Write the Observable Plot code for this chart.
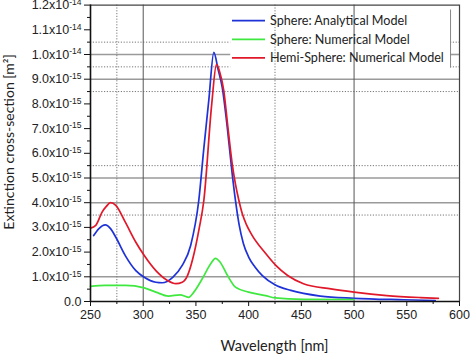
<!DOCTYPE html>
<html><head><meta charset="utf-8">
<script src="https://cdn.jsdelivr.net/npm/d3@7"></script>
<script src="https://cdn.jsdelivr.net/npm/@observablehq/plot@0.6"></script>
<style>
body{margin:0;background:#fff;}
#chart{width:474px;height:354px;overflow:hidden;}
</style></head><body><div id="chart"></div>
<script>
// Values in units of 1e-15 m^2, wavelength in nm
const blueNm = [253,258,264,269,274,283,293,301,312,318,328,337,345,352.7,357.5,362.2,367,371,374.9,379.7,384.4,387.5,391,395,400,406,413,425,440,468,500,547,577];
const blueV  = [2.67,2.95,3.1,2.95,2.6,1.86,1.25,0.98,0.78,0.76,0.98,1.46,2.27,4.09,6.2,8.14,10.09,9.4,8.68,7.06,5.17,4.09,3.1,2.35,1.8,1.4,1.05,0.68,0.45,0.22,0.13,0.07,0.04];
const greenNm = [250,264,283,301,312,324,335,343,348,356,364,368.6,373,380,387.5,400,416,425,452,500];
const greenV  = [0.61,0.65,0.65,0.55,0.38,0.22,0.27,0.17,0.38,0.92,1.53,1.75,1.59,1.05,0.58,0.38,0.24,0.15,0.09,0.08];
const redNm = [250,255,261,265,269,274,283,293,301,312,323,331,337,342,347,353,357.5,365,369.5,372.6,376.4,380.3,384.4,387.5,390.7,394,398,403,416,426,437,452,478,500,531,563,580];
const redV  = [2.97,3.08,3.62,3.85,4.0,3.89,3.21,2.4,1.86,1.25,0.85,0.72,0.78,1.05,1.73,2.94,4.09,8.0,9.6,9.28,8.54,7.06,5.57,4.75,4.1,3.55,3.1,2.7,1.95,1.45,1.05,0.72,0.51,0.38,0.24,0.16,0.13];

const seriesNames = ["Sphere: Analytical Model","Sphere: Numerical Model","Hemi-Sphere: Numerical Model"];
const seriesColors = ["#1f32d8","#3fe83f","#e0182a"];

const xMajorTicks = [250,300,350,400,450,500,550,600];
const xMinorTicks = [275,325,375,425,475,525,575];
const yMajorTicks = [0,1,2,3,4,5,6,7,8,9,10,11,12];
const yMinorTicks = [0.5,1.5,2.5,3.5,4.5,5.5,6.5,7.5,8.5,9.5,10.5,11.5];
const gridSolidY = [10,9,5,4,1];
const gridDottedY = [10.5,9.5,8.5,5.5,3.5];
const gridSolidX = [300,500];
const gridDottedX = [275,425];
const legendHiddenNm = [383,591.5]; // legend box hides horizontal grid here
const gridHiddenY = [10.5,10,9.5];

const xLabel = "Wavelength [nm]";
const yLabel = "Extinction cross-section [m²]";

const series = [[blueNm,blueV],[greenNm,greenV],[redNm,redV]];
const rows = [];
series.forEach(([xs,vs],i)=>xs.forEach((x,j)=>rows.push({x, v: vs[j], s: seriesNames[i]})));

function segs(list){
  const out=[];
  for(const y of list){
    if(gridHiddenY.includes(y)){
      out.push({y,x1:250,x2:legendHiddenNm[0]});
      out.push({y,x1:legendHiddenNm[1],x2:600});
    } else out.push({y,x1:250,x2:600});
  }
  return out;
}

const yFmt = v => v===0 ? "0.0" : (v>=10 ? (v/10).toFixed(1)+"x10^-14" : v.toFixed(1)+"x10^-15");

const plot = Plot.plot({
  width:474, height:354,
  marginLeft:90, marginRight:15, marginTop:4.6, marginBottom:53,
  x:{domain:[250,600]},
  y:{domain:[0,12]},
  color:{domain:seriesNames, range:seriesColors},
  style:{fontFamily:"'Liberation Sans', Arial, sans-serif", fontSize:"12.5px", color:"#222", background:"#fff"},
  marks:[
    Plot.ruleY(segs(gridSolidY),{y:"y",x1:"x1",x2:"x2",stroke:"#9a9a9a",strokeWidth:1.6}),
    Plot.ruleY(segs(gridDottedY),{y:"y",x1:"x1",x2:"x2",stroke:"#777",strokeWidth:1,strokeDasharray:"1.2,1.6"}),
    Plot.ruleX(gridSolidX,{stroke:"#555",strokeWidth:1}),
    Plot.ruleX(gridDottedX,{stroke:"#777",strokeWidth:1,strokeDasharray:"1.2,1.6"}),
    Plot.ruleX([legendHiddenNm[1]],{y1:9.45,y2:11.8,stroke:"#888",strokeWidth:1}),
    Plot.ruleX([600],{stroke:"#444",strokeWidth:1.2}),
    Plot.ruleY([12],{stroke:"#444",strokeWidth:1.2}),
    Plot.line(rows,{x:"x",y:"v",z:"s",stroke:"s",strokeWidth:1.7,curve:"monotone-x"}),
    Plot.ruleX([250],{stroke:"#111",strokeWidth:1.6}),
    Plot.ruleY([0],{stroke:"#111",strokeWidth:1.6}),
    Plot.axisY({ticks:yMajorTicks,tickSize:6,tickPadding:3,tickFormat:yFmt,label:null,stroke:"#111"}),
    Plot.axisY({ticks:yMinorTicks,tickSize:3,tickFormat:()=>"",label:null,stroke:"#111"}),
    Plot.axisX({ticks:xMajorTicks,tickSize:5,tickPadding:4,tickFormat:d=>String(d),label:null,stroke:"#111"}),
    Plot.axisX({ticks:xMinorTicks,tickSize:3,tickFormat:()=>"",label:null,stroke:"#111"})
  ]
});
document.getElementById("chart").appendChild(plot);

const svg = d3.select(plot);
// superscripts on y tick labels
svg.selectAll('g[aria-label="y-axis tick label"] text').each(function(){
  const t = d3.select(this);
  const s = t.text();
  if(s.includes("^")){
    const [base,exp] = s.split("^");
    t.text(base);
    t.append("tspan").attr("dy","-0.5em").attr("font-size","8.5px").text(exp);
  }
});

// axis titles
const labelFont = "Lato, 'Open Sans', sans-serif";
svg.append("text").attr("x",274.5).attr("y",351).attr("text-anchor","middle")
  .attr("font-family",labelFont).attr("font-size","14.5px").attr("fill","#222").text(xLabel);
svg.append("text").attr("transform","translate(13.5,142) rotate(-90)").attr("text-anchor","middle")
  .attr("font-family",labelFont).attr("font-size","14px").attr("fill","#222").text(yLabel);

// legend
const lg = svg.append("g").attr("text-anchor","start");
seriesNames.forEach((n,i)=>{
  const y = 20.7 + 18.6*i;
  lg.append("line").attr("x1",232).attr("x2",265).attr("y1",y).attr("y2",y)
    .attr("stroke",seriesColors[i]).attr("stroke-width",1.7);
  lg.append("text").attr("x",270).attr("y",y).attr("dy","0.35em").attr("text-anchor","start")
    .attr("font-family",labelFont).attr("font-size","12.6px").attr("fill","#222").text(n);
});
</script></body></html>
